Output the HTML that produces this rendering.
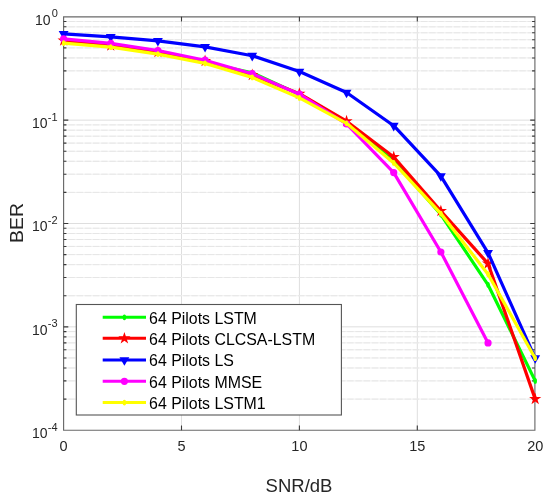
<!DOCTYPE html><html><head><meta charset="utf-8"><style>html,body{margin:0;padding:0;background:#fff;}svg{display:block;}text{font-family:"Liberation Sans",Arial,sans-serif;fill:#262626;}</style></head><body>
<svg width="550" height="501" viewBox="0 0 550 501">
<rect width="550" height="501" fill="#fff"/>
<line x1="181.50" y1="16.8" x2="181.50" y2="430.2" stroke="#dedede" stroke-width="1"/><line x1="299.40" y1="16.8" x2="299.40" y2="430.2" stroke="#dedede" stroke-width="1"/><line x1="417.30" y1="16.8" x2="417.30" y2="430.2" stroke="#dedede" stroke-width="1"/><line x1="63.6" y1="120.15" x2="534.9" y2="120.15" stroke="#dedede" stroke-width="1"/><line x1="63.6" y1="223.50" x2="534.9" y2="223.50" stroke="#dedede" stroke-width="1"/><line x1="63.6" y1="326.85" x2="534.9" y2="326.85" stroke="#dedede" stroke-width="1"/><line x1="63.6" y1="399.09" x2="534.9" y2="399.09" stroke="#f0f0f0" stroke-width="1"/><line x1="63.6" y1="399.09" x2="534.9" y2="399.09" stroke="#e6e6e6" stroke-width="1" stroke-dasharray="6.4 1.8" stroke-dashoffset="3.4"/><line x1="63.6" y1="380.89" x2="534.9" y2="380.89" stroke="#f0f0f0" stroke-width="1"/><line x1="63.6" y1="380.89" x2="534.9" y2="380.89" stroke="#e6e6e6" stroke-width="1" stroke-dasharray="6.4 1.8" stroke-dashoffset="3.4"/><line x1="63.6" y1="367.98" x2="534.9" y2="367.98" stroke="#f0f0f0" stroke-width="1"/><line x1="63.6" y1="367.98" x2="534.9" y2="367.98" stroke="#e6e6e6" stroke-width="1" stroke-dasharray="6.4 1.8" stroke-dashoffset="3.4"/><line x1="63.6" y1="357.96" x2="534.9" y2="357.96" stroke="#f0f0f0" stroke-width="1"/><line x1="63.6" y1="357.96" x2="534.9" y2="357.96" stroke="#e6e6e6" stroke-width="1" stroke-dasharray="6.4 1.8" stroke-dashoffset="3.4"/><line x1="63.6" y1="349.78" x2="534.9" y2="349.78" stroke="#f0f0f0" stroke-width="1"/><line x1="63.6" y1="349.78" x2="534.9" y2="349.78" stroke="#e6e6e6" stroke-width="1" stroke-dasharray="6.4 1.8" stroke-dashoffset="3.4"/><line x1="63.6" y1="342.86" x2="534.9" y2="342.86" stroke="#f0f0f0" stroke-width="1"/><line x1="63.6" y1="342.86" x2="534.9" y2="342.86" stroke="#e6e6e6" stroke-width="1" stroke-dasharray="6.4 1.8" stroke-dashoffset="3.4"/><line x1="63.6" y1="336.87" x2="534.9" y2="336.87" stroke="#f0f0f0" stroke-width="1"/><line x1="63.6" y1="336.87" x2="534.9" y2="336.87" stroke="#e6e6e6" stroke-width="1" stroke-dasharray="6.4 1.8" stroke-dashoffset="3.4"/><line x1="63.6" y1="331.58" x2="534.9" y2="331.58" stroke="#f0f0f0" stroke-width="1"/><line x1="63.6" y1="331.58" x2="534.9" y2="331.58" stroke="#e6e6e6" stroke-width="1" stroke-dasharray="6.4 1.8" stroke-dashoffset="3.4"/><line x1="63.6" y1="295.74" x2="534.9" y2="295.74" stroke="#f0f0f0" stroke-width="1"/><line x1="63.6" y1="295.74" x2="534.9" y2="295.74" stroke="#e6e6e6" stroke-width="1" stroke-dasharray="6.4 1.8" stroke-dashoffset="3.4"/><line x1="63.6" y1="277.54" x2="534.9" y2="277.54" stroke="#f0f0f0" stroke-width="1"/><line x1="63.6" y1="277.54" x2="534.9" y2="277.54" stroke="#e6e6e6" stroke-width="1" stroke-dasharray="6.4 1.8" stroke-dashoffset="3.4"/><line x1="63.6" y1="264.63" x2="534.9" y2="264.63" stroke="#f0f0f0" stroke-width="1"/><line x1="63.6" y1="264.63" x2="534.9" y2="264.63" stroke="#e6e6e6" stroke-width="1" stroke-dasharray="6.4 1.8" stroke-dashoffset="3.4"/><line x1="63.6" y1="254.61" x2="534.9" y2="254.61" stroke="#f0f0f0" stroke-width="1"/><line x1="63.6" y1="254.61" x2="534.9" y2="254.61" stroke="#e6e6e6" stroke-width="1" stroke-dasharray="6.4 1.8" stroke-dashoffset="3.4"/><line x1="63.6" y1="246.43" x2="534.9" y2="246.43" stroke="#f0f0f0" stroke-width="1"/><line x1="63.6" y1="246.43" x2="534.9" y2="246.43" stroke="#e6e6e6" stroke-width="1" stroke-dasharray="6.4 1.8" stroke-dashoffset="3.4"/><line x1="63.6" y1="239.51" x2="534.9" y2="239.51" stroke="#f0f0f0" stroke-width="1"/><line x1="63.6" y1="239.51" x2="534.9" y2="239.51" stroke="#e6e6e6" stroke-width="1" stroke-dasharray="6.4 1.8" stroke-dashoffset="3.4"/><line x1="63.6" y1="233.52" x2="534.9" y2="233.52" stroke="#f0f0f0" stroke-width="1"/><line x1="63.6" y1="233.52" x2="534.9" y2="233.52" stroke="#e6e6e6" stroke-width="1" stroke-dasharray="6.4 1.8" stroke-dashoffset="3.4"/><line x1="63.6" y1="228.23" x2="534.9" y2="228.23" stroke="#f0f0f0" stroke-width="1"/><line x1="63.6" y1="228.23" x2="534.9" y2="228.23" stroke="#e6e6e6" stroke-width="1" stroke-dasharray="6.4 1.8" stroke-dashoffset="3.4"/><line x1="63.6" y1="192.39" x2="534.9" y2="192.39" stroke="#f0f0f0" stroke-width="1"/><line x1="63.6" y1="192.39" x2="534.9" y2="192.39" stroke="#e6e6e6" stroke-width="1" stroke-dasharray="6.4 1.8" stroke-dashoffset="3.4"/><line x1="63.6" y1="174.19" x2="534.9" y2="174.19" stroke="#f0f0f0" stroke-width="1"/><line x1="63.6" y1="174.19" x2="534.9" y2="174.19" stroke="#e6e6e6" stroke-width="1" stroke-dasharray="6.4 1.8" stroke-dashoffset="3.4"/><line x1="63.6" y1="161.28" x2="534.9" y2="161.28" stroke="#f0f0f0" stroke-width="1"/><line x1="63.6" y1="161.28" x2="534.9" y2="161.28" stroke="#e6e6e6" stroke-width="1" stroke-dasharray="6.4 1.8" stroke-dashoffset="3.4"/><line x1="63.6" y1="151.26" x2="534.9" y2="151.26" stroke="#f0f0f0" stroke-width="1"/><line x1="63.6" y1="151.26" x2="534.9" y2="151.26" stroke="#e6e6e6" stroke-width="1" stroke-dasharray="6.4 1.8" stroke-dashoffset="3.4"/><line x1="63.6" y1="143.08" x2="534.9" y2="143.08" stroke="#f0f0f0" stroke-width="1"/><line x1="63.6" y1="143.08" x2="534.9" y2="143.08" stroke="#e6e6e6" stroke-width="1" stroke-dasharray="6.4 1.8" stroke-dashoffset="3.4"/><line x1="63.6" y1="136.16" x2="534.9" y2="136.16" stroke="#f0f0f0" stroke-width="1"/><line x1="63.6" y1="136.16" x2="534.9" y2="136.16" stroke="#e6e6e6" stroke-width="1" stroke-dasharray="6.4 1.8" stroke-dashoffset="3.4"/><line x1="63.6" y1="130.17" x2="534.9" y2="130.17" stroke="#f0f0f0" stroke-width="1"/><line x1="63.6" y1="130.17" x2="534.9" y2="130.17" stroke="#e6e6e6" stroke-width="1" stroke-dasharray="6.4 1.8" stroke-dashoffset="3.4"/><line x1="63.6" y1="124.88" x2="534.9" y2="124.88" stroke="#f0f0f0" stroke-width="1"/><line x1="63.6" y1="124.88" x2="534.9" y2="124.88" stroke="#e6e6e6" stroke-width="1" stroke-dasharray="6.4 1.8" stroke-dashoffset="3.4"/><line x1="63.6" y1="89.04" x2="534.9" y2="89.04" stroke="#f0f0f0" stroke-width="1"/><line x1="63.6" y1="89.04" x2="534.9" y2="89.04" stroke="#e6e6e6" stroke-width="1" stroke-dasharray="6.4 1.8" stroke-dashoffset="3.4"/><line x1="63.6" y1="70.84" x2="534.9" y2="70.84" stroke="#f0f0f0" stroke-width="1"/><line x1="63.6" y1="70.84" x2="534.9" y2="70.84" stroke="#e6e6e6" stroke-width="1" stroke-dasharray="6.4 1.8" stroke-dashoffset="3.4"/><line x1="63.6" y1="57.93" x2="534.9" y2="57.93" stroke="#f0f0f0" stroke-width="1"/><line x1="63.6" y1="57.93" x2="534.9" y2="57.93" stroke="#e6e6e6" stroke-width="1" stroke-dasharray="6.4 1.8" stroke-dashoffset="3.4"/><line x1="63.6" y1="47.91" x2="534.9" y2="47.91" stroke="#f0f0f0" stroke-width="1"/><line x1="63.6" y1="47.91" x2="534.9" y2="47.91" stroke="#e6e6e6" stroke-width="1" stroke-dasharray="6.4 1.8" stroke-dashoffset="3.4"/><line x1="63.6" y1="39.73" x2="534.9" y2="39.73" stroke="#f0f0f0" stroke-width="1"/><line x1="63.6" y1="39.73" x2="534.9" y2="39.73" stroke="#e6e6e6" stroke-width="1" stroke-dasharray="6.4 1.8" stroke-dashoffset="3.4"/><line x1="63.6" y1="32.81" x2="534.9" y2="32.81" stroke="#f0f0f0" stroke-width="1"/><line x1="63.6" y1="32.81" x2="534.9" y2="32.81" stroke="#e6e6e6" stroke-width="1" stroke-dasharray="6.4 1.8" stroke-dashoffset="3.4"/><line x1="63.6" y1="26.82" x2="534.9" y2="26.82" stroke="#f0f0f0" stroke-width="1"/><line x1="63.6" y1="26.82" x2="534.9" y2="26.82" stroke="#e6e6e6" stroke-width="1" stroke-dasharray="6.4 1.8" stroke-dashoffset="3.4"/><line x1="63.6" y1="21.53" x2="534.9" y2="21.53" stroke="#f0f0f0" stroke-width="1"/><line x1="63.6" y1="21.53" x2="534.9" y2="21.53" stroke="#e6e6e6" stroke-width="1" stroke-dasharray="6.4 1.8" stroke-dashoffset="3.4"/>
<path d="M63.6,16.8 H534.9 V430.2 H63.6 Z" fill="none" stroke="#6a6a6a" stroke-width="1.15"/>
<path d="M181.50,430.2v-4.7M181.50,16.8v4.7M299.40,430.2v-4.7M299.40,16.8v4.7M417.30,430.2v-4.7M417.30,16.8v4.7M63.6,326.85h4.7M534.9,326.85h-4.7M63.6,223.50h4.7M534.9,223.50h-4.7M63.6,120.15h4.7M534.9,120.15h-4.7M63.6,399.09h2.82M534.9,399.09h-2.82M63.6,380.89h2.82M534.9,380.89h-2.82M63.6,367.98h2.82M534.9,367.98h-2.82M63.6,357.96h2.82M534.9,357.96h-2.82M63.6,349.78h2.82M534.9,349.78h-2.82M63.6,342.86h2.82M534.9,342.86h-2.82M63.6,336.87h2.82M534.9,336.87h-2.82M63.6,331.58h2.82M534.9,331.58h-2.82M63.6,295.74h2.82M534.9,295.74h-2.82M63.6,277.54h2.82M534.9,277.54h-2.82M63.6,264.63h2.82M534.9,264.63h-2.82M63.6,254.61h2.82M534.9,254.61h-2.82M63.6,246.43h2.82M534.9,246.43h-2.82M63.6,239.51h2.82M534.9,239.51h-2.82M63.6,233.52h2.82M534.9,233.52h-2.82M63.6,228.23h2.82M534.9,228.23h-2.82M63.6,192.39h2.82M534.9,192.39h-2.82M63.6,174.19h2.82M534.9,174.19h-2.82M63.6,161.28h2.82M534.9,161.28h-2.82M63.6,151.26h2.82M534.9,151.26h-2.82M63.6,143.08h2.82M534.9,143.08h-2.82M63.6,136.16h2.82M534.9,136.16h-2.82M63.6,130.17h2.82M534.9,130.17h-2.82M63.6,124.88h2.82M534.9,124.88h-2.82M63.6,89.04h2.82M534.9,89.04h-2.82M63.6,70.84h2.82M534.9,70.84h-2.82M63.6,57.93h2.82M534.9,57.93h-2.82M63.6,47.91h2.82M534.9,47.91h-2.82M63.6,39.73h2.82M534.9,39.73h-2.82M63.6,32.81h2.82M534.9,32.81h-2.82M63.6,26.82h2.82M534.9,26.82h-2.82M63.6,21.53h2.82M534.9,21.53h-2.82" fill="none" stroke="#3a3a3a" stroke-width="1.1"/>
<polyline points="63.60,42.00 110.76,46.40 157.92,53.20 205.08,62.60 252.24,72.80 299.40,94.40 346.56,122.50 393.72,161.00 440.88,214.50 488.04,284.80 535.20,380.90" fill="none" stroke="#00ff00" stroke-width="3.2" stroke-linejoin="round"/>
<ellipse cx="63.60" cy="42.00" rx="1.75" ry="2.9" fill="#00ff00"/><ellipse cx="110.76" cy="46.40" rx="1.75" ry="2.9" fill="#00ff00"/><ellipse cx="157.92" cy="53.20" rx="1.75" ry="2.9" fill="#00ff00"/><ellipse cx="205.08" cy="62.60" rx="1.75" ry="2.9" fill="#00ff00"/><ellipse cx="252.24" cy="72.80" rx="1.75" ry="2.9" fill="#00ff00"/><ellipse cx="299.40" cy="94.40" rx="1.75" ry="2.9" fill="#00ff00"/><ellipse cx="346.56" cy="122.50" rx="1.75" ry="2.9" fill="#00ff00"/><ellipse cx="393.72" cy="161.00" rx="1.75" ry="2.9" fill="#00ff00"/><ellipse cx="440.88" cy="214.50" rx="1.75" ry="2.9" fill="#00ff00"/><ellipse cx="488.04" cy="284.80" rx="1.75" ry="2.9" fill="#00ff00"/><ellipse cx="535.20" cy="380.90" rx="1.75" ry="2.9" fill="#00ff00"/>
<polyline points="63.60,40.60 110.76,45.60 157.92,52.10 205.08,61.00 252.24,75.00 299.40,93.70 346.56,121.20 393.72,157.10 440.88,211.10 488.04,263.60 535.20,399.10" fill="none" stroke="#ff0000" stroke-width="3.2" stroke-linejoin="round"/>
<polygon points="63.60,34.20 65.04,38.62 69.69,38.62 65.93,41.36 67.36,45.78 63.60,43.04 59.84,45.78 61.27,41.36 57.51,38.62 62.16,38.62" fill="#ff0000"/><polygon points="110.76,39.20 112.20,43.62 116.85,43.62 113.09,46.36 114.52,50.78 110.76,48.04 107.00,50.78 108.43,46.36 104.67,43.62 109.32,43.62" fill="#ff0000"/><polygon points="157.92,45.70 159.36,50.12 164.01,50.12 160.25,52.86 161.68,57.28 157.92,54.54 154.16,57.28 155.59,52.86 151.83,50.12 156.48,50.12" fill="#ff0000"/><polygon points="205.08,54.60 206.52,59.02 211.17,59.02 207.41,61.76 208.84,66.18 205.08,63.44 201.32,66.18 202.75,61.76 198.99,59.02 203.64,59.02" fill="#ff0000"/><polygon points="252.24,68.60 253.68,73.02 258.33,73.02 254.57,75.76 256.00,80.18 252.24,77.44 248.48,80.18 249.91,75.76 246.15,73.02 250.80,73.02" fill="#ff0000"/><polygon points="299.40,87.30 300.84,91.72 305.49,91.72 301.73,94.46 303.16,98.88 299.40,96.14 295.64,98.88 297.07,94.46 293.31,91.72 297.96,91.72" fill="#ff0000"/><polygon points="346.56,114.80 348.00,119.22 352.65,119.22 348.89,121.96 350.32,126.38 346.56,123.64 342.80,126.38 344.23,121.96 340.47,119.22 345.12,119.22" fill="#ff0000"/><polygon points="393.72,150.70 395.16,155.12 399.81,155.12 396.05,157.86 397.48,162.28 393.72,159.54 389.96,162.28 391.39,157.86 387.63,155.12 392.28,155.12" fill="#ff0000"/><polygon points="440.88,204.70 442.32,209.12 446.97,209.12 443.21,211.86 444.64,216.28 440.88,213.54 437.12,216.28 438.55,211.86 434.79,209.12 439.44,209.12" fill="#ff0000"/><polygon points="488.04,257.20 489.48,261.62 494.13,261.62 490.37,264.36 491.80,268.78 488.04,266.04 484.28,268.78 485.71,264.36 481.95,261.62 486.60,261.62" fill="#ff0000"/><polygon points="535.20,392.70 536.64,397.12 541.29,397.12 537.53,399.86 538.96,404.28 535.20,401.54 531.44,404.28 532.87,399.86 529.11,397.12 533.76,397.12" fill="#ff0000"/>
<polyline points="63.60,33.80 110.76,36.90 157.92,40.80 205.08,46.85 252.24,55.70 299.40,71.50 346.56,92.50 393.72,125.70 440.88,176.10 488.04,252.80 535.20,358.10" fill="none" stroke="#0000ff" stroke-width="3.2" stroke-linejoin="round"/>
<polygon points="58.66,30.95 68.54,30.95 63.60,39.50" fill="#0000ff"/><polygon points="105.82,34.05 115.70,34.05 110.76,42.60" fill="#0000ff"/><polygon points="152.98,37.95 162.86,37.95 157.92,46.50" fill="#0000ff"/><polygon points="200.14,44.00 210.02,44.00 205.08,52.55" fill="#0000ff"/><polygon points="247.30,52.85 257.18,52.85 252.24,61.40" fill="#0000ff"/><polygon points="294.46,68.65 304.34,68.65 299.40,77.20" fill="#0000ff"/><polygon points="341.62,89.65 351.50,89.65 346.56,98.20" fill="#0000ff"/><polygon points="388.78,122.85 398.66,122.85 393.72,131.40" fill="#0000ff"/><polygon points="435.94,173.25 445.82,173.25 440.88,181.80" fill="#0000ff"/><polygon points="483.10,249.95 492.98,249.95 488.04,258.50" fill="#0000ff"/><polygon points="530.26,355.25 540.14,355.25 535.20,363.80" fill="#0000ff"/>
<polyline points="63.60,38.80 110.76,43.40 157.92,50.50 205.08,60.20 252.24,73.70 299.40,94.20 346.56,124.00 393.72,172.60 440.88,252.00 488.04,342.90" fill="none" stroke="#ff00ff" stroke-width="3.2" stroke-linejoin="round"/>
<circle cx="63.60" cy="38.80" r="3.6" fill="#ff00ff"/><circle cx="110.76" cy="43.40" r="3.6" fill="#ff00ff"/><circle cx="157.92" cy="50.50" r="3.6" fill="#ff00ff"/><circle cx="205.08" cy="60.20" r="3.6" fill="#ff00ff"/><circle cx="252.24" cy="73.70" r="3.6" fill="#ff00ff"/><circle cx="299.40" cy="94.20" r="3.6" fill="#ff00ff"/><circle cx="346.56" cy="124.00" r="3.6" fill="#ff00ff"/><circle cx="393.72" cy="172.60" r="3.6" fill="#ff00ff"/><circle cx="440.88" cy="252.00" r="3.6" fill="#ff00ff"/><circle cx="488.04" cy="342.90" r="3.6" fill="#ff00ff"/>
<polyline points="63.60,43.10 110.76,47.20 157.92,54.10 205.08,63.40 252.24,77.40 299.40,97.90 346.56,123.30 393.72,162.90 440.88,213.60 488.04,274.20 535.20,358.20" fill="none" stroke="#ffff00" stroke-width="3.2" stroke-linejoin="round"/>
<ellipse cx="63.60" cy="43.10" rx="1.75" ry="2.9" fill="#ffff00"/><ellipse cx="110.76" cy="47.20" rx="1.75" ry="2.9" fill="#ffff00"/><ellipse cx="157.92" cy="54.10" rx="1.75" ry="2.9" fill="#ffff00"/><ellipse cx="205.08" cy="63.40" rx="1.75" ry="2.9" fill="#ffff00"/><ellipse cx="252.24" cy="77.40" rx="1.75" ry="2.9" fill="#ffff00"/><ellipse cx="299.40" cy="97.90" rx="1.75" ry="2.9" fill="#ffff00"/><ellipse cx="346.56" cy="123.30" rx="1.75" ry="2.9" fill="#ffff00"/><ellipse cx="393.72" cy="162.90" rx="1.75" ry="2.9" fill="#ffff00"/><ellipse cx="440.88" cy="213.60" rx="1.75" ry="2.9" fill="#ffff00"/><ellipse cx="488.04" cy="274.20" rx="1.75" ry="2.9" fill="#ffff00"/><ellipse cx="535.20" cy="358.20" rx="1.75" ry="2.9" fill="#ffff00"/>
<text x="63.60" y="451.2" font-size="14.5" text-anchor="middle">0</text>
<text x="181.50" y="451.2" font-size="14.5" text-anchor="middle">5</text>
<text x="299.40" y="451.2" font-size="14.5" text-anchor="middle">10</text>
<text x="417.30" y="451.2" font-size="14.5" text-anchor="middle">15</text>
<text x="535.20" y="451.2" font-size="14.5" text-anchor="middle">20</text>
<text x="47.53" y="438.05" font-size="14" text-anchor="end">10</text><text x="47.72" y="430.70" font-size="11">-4</text>
<text x="47.53" y="334.70" font-size="14" text-anchor="end">10</text><text x="47.72" y="327.35" font-size="11">-3</text>
<text x="47.53" y="231.35" font-size="14" text-anchor="end">10</text><text x="47.72" y="224.00" font-size="11">-2</text>
<text x="47.53" y="128.00" font-size="14" text-anchor="end">10</text><text x="47.72" y="120.65" font-size="11">-1</text>
<text x="50.53" y="24.65" font-size="14" text-anchor="end">10</text><text x="51.77" y="16.90" font-size="11">0</text>
<text x="299" y="491.5" font-size="18.5" text-anchor="middle">SNR/dB</text>
<text transform="translate(23.1,223) rotate(-90) scale(1.08,1)" font-size="18" text-anchor="middle">BER</text>
<rect x="76.3" y="304.5" width="265.09999999999997" height="110.5" fill="#fff" stroke="#555" stroke-width="1.1"/>
<line x1="102.7" y1="317.3" x2="146" y2="317.3" stroke="#00ff00" stroke-width="3.0"/>
<ellipse cx="124.40" cy="317.30" rx="1.75" ry="2.9" fill="#00ff00"/>
<text x="149.1" y="323.70" font-size="15.9" style="fill:#000">64 Pilots LSTM</text>
<line x1="102.7" y1="338.3" x2="146" y2="338.3" stroke="#ff0000" stroke-width="3.0"/>
<polygon points="124.40,331.90 125.84,336.32 130.49,336.32 126.73,339.06 128.16,343.48 124.40,340.74 120.64,343.48 122.07,339.06 118.31,336.32 122.96,336.32" fill="#ff0000"/>
<text x="149.1" y="344.70" font-size="15.9" style="fill:#000">64 Pilots CLCSA-LSTM</text>
<line x1="102.7" y1="360.0" x2="146" y2="360.0" stroke="#0000ff" stroke-width="3.0"/>
<polygon points="119.46,357.15 129.34,357.15 124.40,365.70" fill="#0000ff"/>
<text x="149.1" y="366.40" font-size="15.9" style="fill:#000">64 Pilots LS</text>
<line x1="102.7" y1="381.3" x2="146" y2="381.3" stroke="#ff00ff" stroke-width="3.0"/>
<circle cx="124.40" cy="381.30" r="3.6" fill="#ff00ff"/>
<text x="149.1" y="387.70" font-size="15.9" style="fill:#000">64 Pilots MMSE</text>
<line x1="102.7" y1="402.6" x2="146" y2="402.6" stroke="#ffff00" stroke-width="3.0"/>
<ellipse cx="124.40" cy="402.60" rx="1.75" ry="2.9" fill="#ffff00"/>
<text x="149.1" y="409.00" font-size="15.9" style="fill:#000">64 Pilots LSTM1</text>
</svg></body></html>
